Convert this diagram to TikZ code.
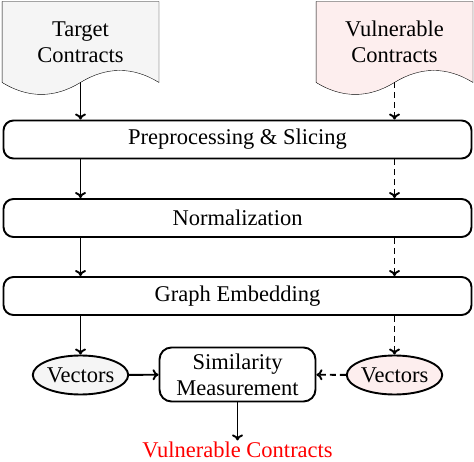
\documentclass[tikz,border=0pt]{standalone}
\usepackage{fontspec}
\setmainfont{Liberation Serif}
\usetikzlibrary{shapes.geometric,backgrounds,arrows.meta}
\definecolor{targetfill}{RGB}{245,245,245}
\definecolor{vulnfill}{RGB}{253,238,238}
\begin{document}
\begin{tikzpicture}[x=1pt,y=1pt,line width=1.9pt,>={To[length=6pt,width=11pt]},
  every node/.style={font=\fontsize{22.5}{26}\selectfont},
  doc/.style={minimum width=155pt, minimum height=79pt, align=center, inner sep=0pt},
  stage/.style={draw, rounded corners=10pt, minimum width=468pt, minimum height=38pt, inner sep=0pt},
  vec/.style={draw, ellipse, minimum width=94pt, minimum height=39pt, inner sep=0pt},
  sim/.style={draw, rounded corners=12pt, minimum width=156pt, minimum height=54pt, align=center, inner sep=0pt},
  flow/.style={->},
  vflow/.style={->, dash pattern=on 6pt off 4pt}]
\useasboundingbox (0,0) rectangle (474,-462);
\node[doc] (target) at (80.5,-42) {Target\\Contracts};
\node[doc] (vuln) at (394.5,-42) {Vulnerable\\Contracts};
\begin{scope}[on background layer]
\draw[fill=targetfill] (target.north west) -- (target.north east) -- (target.south east)
    .. controls +(-26,16) and +(26,16) .. (target.south)
    .. controls +(-26,-16) and +(26,-16) .. (target.south west) -- cycle;
\draw[fill=vulnfill] (vuln.north west) -- (vuln.north east) -- (vuln.south east)
    .. controls +(-26,16) and +(26,16) .. (vuln.south)
    .. controls +(-26,-16) and +(26,-16) .. (vuln.south west) -- cycle;
\end{scope}
\node[stage] (prep) at (237.5,-139.5) {Preprocessing \& Slicing};
\node[stage] (norm) at (237.5,-218) {Normalization};
\node[stage] (embed) at (237.5,-296) {Graph Embedding};
\node[vec, fill=targetfill] (tvec) at (80.5,-375) {Vectors};
\node[vec, fill=vulnfill] (vvec) at (394.5,-375) {Vectors};
\node[sim] (simm) at (237.5,-374.5) {Similarity\\Measurement};
\node[text=red, anchor=base, inner sep=0pt] (result) at (237.5,-457) {Vulnerable Contracts};
% target side
\draw[flow] (target.south) -- (target.south |- prep.north);
\draw[flow] (target.south |- prep.south) -- (target.south |- norm.north);
\draw[flow] (target.south |- norm.south) -- (target.south |- embed.north);
\draw[flow] (target.south |- embed.south) -- (tvec.north);
% vulnerable side
\draw[vflow] (vuln.south) -- (vuln.south |- prep.north);
\draw[vflow] (vuln.south |- prep.south) -- (vuln.south |- norm.north);
\draw[vflow] (vuln.south |- norm.south) -- (vuln.south |- embed.north);
\draw[vflow] (vuln.south |- embed.south) -- (vvec.north);
% matching
\draw[flow] (tvec) -- (simm);
\draw[vflow] (vvec) -- (simm);
\draw[flow] (simm) -- (result);
\end{tikzpicture}
\end{document}
